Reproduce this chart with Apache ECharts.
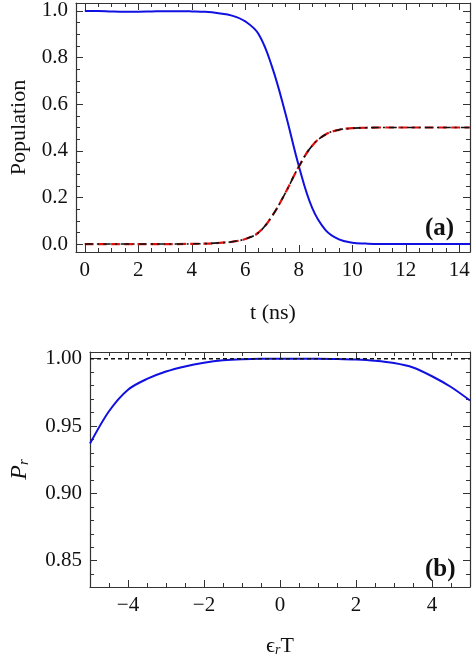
<!DOCTYPE html><html><head><meta charset="utf-8">
<script src="https://cdn.jsdelivr.net/npm/echarts@6/dist/echarts.min.js"></script>
<style>html,body{margin:0;padding:0;background:#fff}#c{width:474px;height:658px}</style></head><body><div id="c"></div>
<script>
const tA=[0,0.5,1,1.5,2,2.5,3,3.5,4,4.5,5,5.5,6,6.5,7,7.5,8,8.5,9,9.5,10,10.5,11,12,13,14,14.4];
const popBlue=[1,1,0.998,0.997,0.997,0.998,0.999,0.999,0.998,0.996,0.99,0.98,0.955,0.9,0.76,0.56,0.335,0.155,0.06,0.02,0.006,0.002,0,0,0,0,0];
const popRed=[0,0,0,0,0,0,0,0,0.001,0.002,0.005,0.01,0.022,0.05,0.12,0.22,0.332,0.422,0.47,0.49,0.497,0.499,0.5,0.5,0.5,0.5,0.5];
const eps=[-5,-4.5,-4,-3.5,-3,-2.5,-2,-1.5,-1,-0.5,0,0.5,1,1.5,2,2.5,3,3.5,4,4.5,5];
const pr=[0.937,0.961,0.977,0.985,0.9905,0.9943,0.997,0.9988,0.9997,1,1,1,1,0.9998,0.9994,0.9985,0.9968,0.9935,0.987,0.979,0.969];
const xTicksA=[0,2,4,6,8,10,12,14];
const yTicksA=[0,0.2,0.4,0.6,0.8,1.0];
const xTicksB=[-4,-2,0,2,4];
const yTicksB=[0.85,0.90,0.95,1.00];
function range(a,b,s){const r=[];for(let v=a;v<=b+1e-9;v+=s)r.push(+v.toFixed(4));return r;}
const F='Liberation Serif, DejaVu Serif, serif';
const lab={fontFamily:F,fontSize:21,color:'#111'};
function ax(type,grid,min,max,pos,major,minor,showLab,fmt,extra){
  const base={type:'value',gridIndex:grid,min:min,max:max,position:pos,
    axisLine:{show:true,onZero:false,lineStyle:{color:'#333',width:1.2}},splitLine:{show:false}};
  const a=Object.assign({},base,{axisTick:{show:true,inside:true,length:7,customValues:major,lineStyle:{color:'#333'}},
    axisLabel:showLab?Object.assign({show:true,customValues:major,formatter:fmt,margin:8},lab):{show:false}},extra||{});
  const b=Object.assign({},base,{axisLine:{show:false,onZero:false},axisTick:{show:true,inside:true,length:4,customValues:minor,lineStyle:{color:'#333'}},axisLabel:{show:false}});
  return [a,b];
}
const fA=v=>v.toFixed(1), fB=v=>v.toFixed(2), fI=v=>(v<0?'\u2212'+(-v):''+v);
const xAxis=[].concat(
  ax('x',0,-0.33,14.4,'bottom',xTicksA,range(0,14,0.5),true,fI,{name:'t (ns)',nameLocation:'middle',nameGap:50,nameTextStyle:{fontFamily:F,fontSize:22,color:'#111'}}),
  ax('x',0,-0.33,14.4,'top',xTicksA,range(0,14,0.5),false),
  ax('x',1,-5,5,'bottom',xTicksB,range(-5,5,0.5),true,fI,{name:'{e|\u03f5}{s|r}{e|T}',nameLocation:'middle',nameGap:48,nameTextStyle:{rich:{e:{fontFamily:F,fontSize:22,color:'#111'},s:{fontFamily:F,fontSize:14,fontStyle:'italic',color:'#111',padding:[8,0,0,0]}}}}),
  ax('x',1,-5,5,'top',xTicksB,range(-5,5,0.5),false)
);
const yAxis=[].concat(
  ax('y',0,-0.034,1.034,'left',yTicksA,range(0,1,0.05),true,fA,{name:'Population',nameLocation:'middle',nameGap:46,nameTextStyle:{fontFamily:F,fontSize:22,color:'#111'}}),
  ax('y',0,-0.034,1.034,'right',yTicksA,range(0,1,0.05),false),
  ax('y',1,0.8305,1.005,'left',yTicksB,range(0.84,1.0,0.01),true,fB,{name:'{p|P}{s|r}',nameLocation:'middle',nameGap:58,nameTextStyle:{rich:{p:{fontFamily:F,fontSize:24,fontStyle:'italic',color:'#111'},s:{fontFamily:F,fontSize:15,fontStyle:'italic',color:'#111',padding:[8,0,0,0]}}}}),
  ax('y',1,0.8305,1.005,'right',yTicksB,range(0.84,1.0,0.01),false)
);
const chart=echarts.init(document.getElementById('c'),null,{renderer:'canvas'});
const z=(x,y)=>x.map((v,i)=>[v,y[i]]);
chart.setOption({
  animation:false,backgroundColor:'#fff',
  grid:[{left:67,top:3,width:403,height:249},{left:80,top:352,width:390,height:241}],
  xAxis:xAxis,yAxis:yAxis,
  graphic:[
    {type:'text',left:425,top:216,style:{text:'(a)',font:'bold 25px '+F,fill:'#111'}},
    {type:'text',left:425,top:557,style:{text:'(b)',font:'bold 25px '+F,fill:'#111'}}
  ],
  series:[
    {type:'line',xAxisIndex:0,yAxisIndex:0,data:z(tA,popBlue),smooth:0.4,showSymbol:false,lineStyle:{color:'#1010e0',width:2}},
    {type:'line',xAxisIndex:0,yAxisIndex:0,data:z(tA,popRed),smooth:0.4,showSymbol:false,lineStyle:{color:'#e01010',width:2.2,type:'dashed'}},
    {type:'line',xAxisIndex:0,yAxisIndex:0,data:z(tA,popRed),smooth:0.4,showSymbol:false,lineStyle:{color:'#111',width:1.6,type:[8,4,2,4]}},
    {type:'line',xAxisIndex:4,yAxisIndex:4,data:z(eps,pr),smooth:0.3,showSymbol:false,lineStyle:{color:'#1010e0',width:2}},
    {type:'line',xAxisIndex:4,yAxisIndex:4,data:[[-5,1],[5,1]],showSymbol:false,lineStyle:{color:'#111',width:1.6,type:[4,3]}}
  ]
});
</script></body></html>
